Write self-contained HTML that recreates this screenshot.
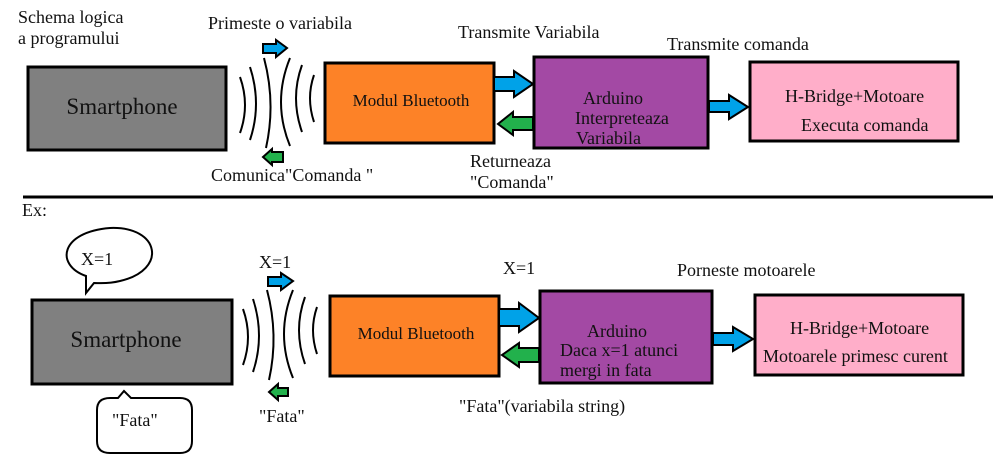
<!DOCTYPE html>
<html><head><meta charset="utf-8"><style>
html,body{margin:0;padding:0;background:#fff;width:997px;height:473px;overflow:hidden}
svg text{font-family:"Liberation Serif",serif;fill:#111}
</style></head><body>
<svg width="997" height="473" viewBox="0 0 997 473" xmlns="http://www.w3.org/2000/svg">
<defs>
<g id="waves" fill="none" stroke="#000" stroke-width="2">
<path d="M240 77 Q250 105 240 133"/>
<path d="M250 67 Q262 104 250 140"/>
<path d="M264 58 Q276 103 266 148"/>
<path d="M290 58 Q272 102 290 146"/>
<path d="M302 65 Q290 98 302 132"/>
<path d="M314 75 Q306 98 314 122"/>
</g>
</defs>
<!-- TOP -->
<text x="18" y="23" font-size="18">Schema logica</text>
<text x="18" y="44" font-size="18">a programului</text>
<text x="208" y="29" font-size="18">Primeste o variabila</text>
<text x="458" y="38" font-size="18">Transmite Variabila</text>
<text x="667" y="50" font-size="18">Transmite comanda</text>
<rect x="28" y="67" width="198" height="83" fill="#808080" stroke="#000" stroke-width="3"/>
<text x="122" y="114" font-size="23" text-anchor="middle">Smartphone</text>
<use href="#waves"/>
<polygon points="263,44 276,44 276,40 287,48 276,57 276,53 263,53" fill="#00a2e8" stroke="#000" stroke-width="2"/>
<polygon points="283,152 272,152 272,149 263,157 272,165 272,162 283,162" fill="#22b14c" stroke="#000" stroke-width="2"/>
<text x="211" y="181" font-size="18">Comunica"Comanda  "</text>
<rect x="325" y="63" width="169" height="80" fill="#fd8227" stroke="#000" stroke-width="3"/>
<text x="411" y="106" font-size="17" text-anchor="middle">Modul Bluetooth</text>
<polygon points="494,77 514,77 514,71 533,84 514,97 514,91 494,91" fill="#00a2e8" stroke="#000" stroke-width="2"/>
<polygon points="533,117 513,117 513,112 498,124 513,135 513,130 533,130" fill="#22b14c" stroke="#000" stroke-width="2"/>
<rect x="534" y="57" width="174" height="91" fill="#a349a4" stroke="#000" stroke-width="3"/>
<text x="583" y="104" font-size="18">Arduino</text>
<text x="575" y="124" font-size="18">Interpreteaza</text>
<text x="576" y="144" font-size="18">Variabila</text>
<text x="470" y="167" font-size="18">Returneaza</text>
<text x="470" y="188" font-size="18">"Comanda"</text>
<polygon points="709,101 729,101 729,95 748,107 729,119 729,112 709,112" fill="#00a2e8" stroke="#000" stroke-width="2"/>
<rect x="750" y="62" width="208" height="79" fill="#ffaec9" stroke="#000" stroke-width="3"/>
<text x="785" y="102" font-size="18">H-Bridge+Motoare</text>
<text x="801" y="131" font-size="18">Executa comanda</text>
<line x1="23" y1="197" x2="993" y2="197" stroke="#000" stroke-width="3"/>
<!-- BOTTOM -->
<text x="22" y="216" font-size="18">Ex:</text>
<path d="M86 276 C55 265 60 232 110 228 C160 226 168 270 120 281 C108 284 100 283 94 283 L86 293 Z" fill="#fff" stroke="#000" stroke-width="2"/>
<text x="81" y="265" font-size="18">X=1</text>
<rect x="32" y="300" width="200" height="84" fill="#808080" stroke="#000" stroke-width="3"/>
<text x="126" y="347" font-size="23" text-anchor="middle">Smartphone</text>
<path d="M110 398 L118 398 L124 391 L131 398 L180 398 Q192 398 192 410 L192 441 Q192 453 180 453 L110 453 Q97 453 97 441 L97 410 Q97 398 110 398 Z" fill="#fff" stroke="#000" stroke-width="2"/>
<text x="112" y="426" font-size="18">"Fata"</text>
<g transform="translate(3,232)"><use href="#waves"/></g>
<text x="259" y="268" font-size="18">X=1</text>
<polygon points="268,277 281,277 281,273 293,281 281,290 281,286 268,286" fill="#00a2e8" stroke="#000" stroke-width="2"/>
<polygon points="288,388 278,388 278,384 269,392 278,400 278,396 288,396" fill="#22b14c" stroke="#000" stroke-width="2"/>
<text x="259" y="422" font-size="18">"Fata"</text>
<rect x="330" y="296" width="169" height="80" fill="#fd8227" stroke="#000" stroke-width="3"/>
<text x="416" y="339" font-size="17" text-anchor="middle">Modul Bluetooth</text>
<text x="503" y="274" font-size="18">X=1</text>
<polygon points="499,309 519,309 519,303 539,318 519,332 519,326 499,326" fill="#00a2e8" stroke="#000" stroke-width="2"/>
<polygon points="539,348 519,348 519,343 502,355 519,367 519,362 539,362" fill="#22b14c" stroke="#000" stroke-width="2"/>
<rect x="540" y="291" width="172" height="92" fill="#a349a4" stroke="#000" stroke-width="3"/>
<text x="587" y="337" font-size="18">Arduino</text>
<text x="560" y="356" font-size="18">Daca x=1 atunci</text>
<text x="560" y="376" font-size="18">mergi in fata</text>
<text x="677" y="276" font-size="18">Porneste motoarele</text>
<text x="459" y="412" font-size="18">"Fata"(variabila string)</text>
<polygon points="713,333 733,333 733,327 753,339 733,351 733,345 713,345" fill="#00a2e8" stroke="#000" stroke-width="2"/>
<rect x="755" y="295" width="208" height="80" fill="#ffaec9" stroke="#000" stroke-width="3"/>
<text x="790" y="334" font-size="18">H-Bridge+Motoare</text>
<text x="763" y="362" font-size="18">Motoarele primesc curent</text>
</svg>
</body></html>
